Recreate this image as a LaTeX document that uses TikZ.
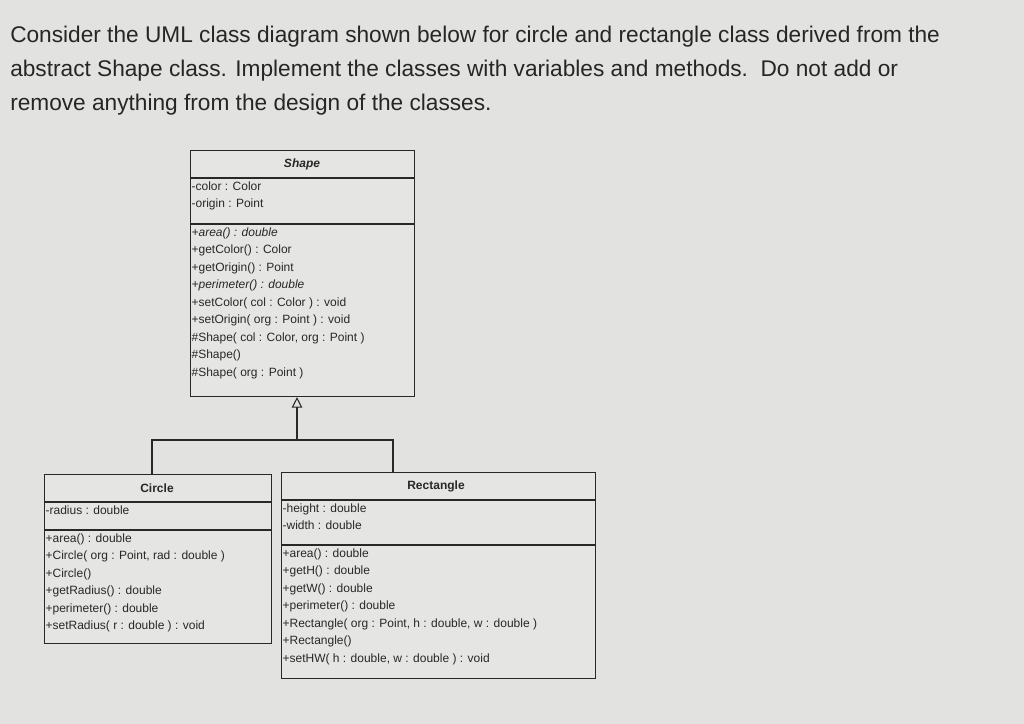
\documentclass[tikz,border=0pt]{standalone}
\usepackage{fontspec}
\setmainfont{Liberation Sans}
\usetikzlibrary{arrows.meta, positioning}
\definecolor{screenGrey}{RGB}{226, 226, 224}
\definecolor{inkGrey}{RGB}{40, 40, 40}
\tikzset{
    classbox/.style={draw=inkGrey, thick, fill=screenGrey!90!white, anchor=north west, inner sep=0pt},
    classname/.style={font=\fontsize{9}{11}\selectfont\bfseries, text=inkGrey},
    members/.style={font=\fontsize{9}{13.1}\selectfont, text=inkGrey, align=left, anchor=north west, inner sep=1pt},
    inherit/.style={draw=inkGrey, thick}
}
\begin{document}
\begin{tikzpicture}[x=0.75pt, y=-0.75pt]
    % screen background
    \fill[screenGrey] (0,0) rectangle (1024,724);
    \useasboundingbox (0,0) rectangle (1024,724);

    % question text
    \node[anchor=north west, align=left, text=black!85, inner sep=0pt,
          font=\fontsize{17}{25.5}\selectfont] (question) at (10,26)
        {Consider the UML class diagram shown below for circle and rectangle class derived from the\\
         abstract Shape class. Implement the classes with variables and methods.\ \ Do not add or\\
         remove anything from the design of the classes.};

    % Shape class
    \node[classbox, minimum width=168pt, minimum height=184.5pt] (shape) at (190,150) {};
    \draw[inkGrey, thick] (190,178) -- (414,178) (190,224) -- (414,224);
    \node[classname, font=\fontsize{9}{11}\selectfont\bfseries\itshape] (shapeName) at (302,164) {Shape};
    \node[members] (shapeAttr) at (190,180) {-color : Color\\-origin : Point};
    \node[members] (shapeOps) at (190,226)
        {\textit{+area() : double}\\+getColor() : Color\\+getOrigin() : Point\\
         \textit{+perimeter() : double}\\+setColor( col : Color ) : void\\
         +setOrigin( org : Point ) : void\\\#Shape( col : Color, org : Point )\\
         \#Shape()\\\#Shape( org : Point )};

    % Circle class
    \node[classbox, minimum width=170.25pt, minimum height=126.75pt] (circle) at (44,474) {};
    \draw[inkGrey, thick] (44,502) -- (271,502) (44,530) -- (271,530);
    \node[classname] (circleName) at (157,488) {Circle};
    \node[members] (circleAttr) at (44,504) {-radius : double};
    \node[members] (circleOps) at (44,532)
        {+area() : double\\+Circle( org : Point, rad : double )\\+Circle()\\
         +getRadius() : double\\+perimeter() : double\\+setRadius( r : double ) : void};

    % Rectangle class
    \node[classbox, minimum width=235.5pt, minimum height=154.5pt] (rect) at (281,472) {};
    \draw[inkGrey, thick] (281,500) -- (595,500) (281,545) -- (595,545);
    \node[classname] (rectName) at (436,486) {Rectangle};
    \node[members] (rectAttr) at (281,502) {-height : double\\-width : double};
    \node[members] (rectOps) at (281,547)
        {+area() : double\\+getH() : double\\+getW() : double\\+perimeter() : double\\
         +Rectangle( org : Point, h : double, w : double )\\+Rectangle()\\
         +setHW( h : double, w : double ) : void};

    % generalisation
    \coordinate (fork) at (297,440);
    \draw[inherit, -{Triangle[open, length=8pt, width=8pt]}] (fork) -- (shape.south -| fork);
    \draw[inherit] (circle.north -| 152,0) |- (fork) -| (rect.north -| 393,0);
\end{tikzpicture}
\end{document}
